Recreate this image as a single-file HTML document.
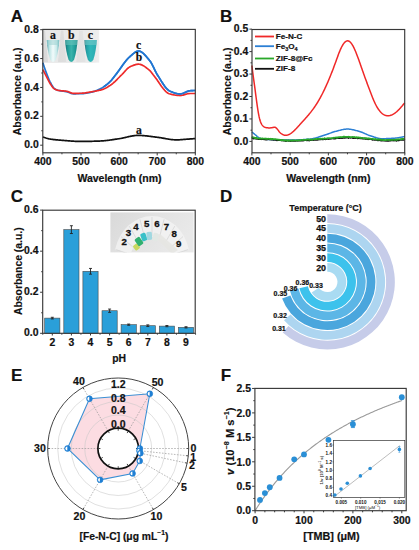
<!DOCTYPE html>
<html><head><meta charset="utf-8"><style>
html,body{margin:0;padding:0;background:#fff;}
svg{display:block;}
</style></head><body>
<svg width="419" height="550" viewBox="0 0 419 550">
<rect x="0" y="0" width="419" height="550" fill="#fff"/>
<defs><linearGradient id="ibg" x1="0" y1="0" x2="1" y2="0"><stop offset="0" stop-color="#d9d9d9"/><stop offset="0.8" stop-color="#e4e4e4"/><stop offset="1" stop-color="#f0f0f0"/></linearGradient><linearGradient id="tubeA" x1="0" y1="0" x2="1" y2="0"><stop offset="0" stop-color="#8fcfd0"/><stop offset="0.5" stop-color="#e9f6f6"/><stop offset="1" stop-color="#9fd6d6"/></linearGradient><linearGradient id="tubeB" x1="0" y1="0" x2="1" y2="0"><stop offset="0" stop-color="#1e8c8c"/><stop offset="0.5" stop-color="#36b0ae"/><stop offset="1" stop-color="#1f8a8a"/></linearGradient><linearGradient id="tubeC" x1="0" y1="0" x2="1" y2="0"><stop offset="0" stop-color="#1f9aa0"/><stop offset="0.5" stop-color="#2fb4b8"/><stop offset="1" stop-color="#2296a0"/></linearGradient><linearGradient id="ibgC" x1="0" y1="0" x2="0" y2="1"><stop offset="0" stop-color="#dedede"/><stop offset="1" stop-color="#e6e6e6"/></linearGradient></defs>
<rect x="43.4" y="30.2" width="55.8" height="32.4" fill="url(#ibg)"/>
<path d="M45.0,30.2 L61.0,30.2 L58.0,62.6 L48.0,62.6 Z" fill="#ececec" opacity="0.8"/>
<path d="M63.3,30.2 L79.3,30.2 L76.3,62.6 L66.3,62.6 Z" fill="#ececec" opacity="0.8"/>
<path d="M82.6,30.2 L98.6,30.2 L95.6,62.6 L85.6,62.6 Z" fill="#ececec" opacity="0.8"/>
<linearGradient id="tg53" x1="0" y1="0" x2="1" y2="0"><stop offset="0.00" stop-color="#3f96a0"/><stop offset="0.18" stop-color="#b8e2e2"/><stop offset="0.50" stop-color="#f2fbfb"/><stop offset="0.82" stop-color="#c4e8e8"/><stop offset="1.00" stop-color="#4aa6ae"/></linearGradient>
<path d="M46.80,40 L59.20,40 C59.00,46 57.60,54 55.90,59.3 Q54.80,61.9 53.00,61.9 Q51.20,61.9 50.10,59.3 C48.40,54 47.00,46 46.80,40 Z" fill="url(#tg53)"/>
<path d="M46.80,40 L59.20,40 L59.00,45 L47.00,45 Z" fill="#9fd2d2" opacity="0.55"/>
<linearGradient id="tg71" x1="0" y1="0" x2="1" y2="0"><stop offset="0.00" stop-color="#0f6a6e"/><stop offset="0.20" stop-color="#1d9896"/><stop offset="0.50" stop-color="#3ab4ac"/><stop offset="0.80" stop-color="#1f9c98"/><stop offset="1.00" stop-color="#177c7c"/></linearGradient>
<path d="M65.10,40 L77.50,40 C77.30,46 75.90,54 74.20,59.3 Q73.10,61.9 71.30,61.9 Q69.50,61.9 68.40,59.3 C66.70,54 65.30,46 65.10,40 Z" fill="url(#tg71)"/>
<path d="M65.10,40 L77.50,40 L77.30,45 L65.30,45 Z" fill="#6cc2bc" opacity="0.55"/>
<linearGradient id="tg90" x1="0" y1="0" x2="1" y2="0"><stop offset="0.00" stop-color="#2a6870"/><stop offset="0.18" stop-color="#22a0a6"/><stop offset="0.50" stop-color="#30b8ba"/><stop offset="1.00" stop-color="#2aa8ae"/></linearGradient>
<path d="M84.40,40 L96.80,40 C96.60,46 95.20,54 93.50,59.3 Q92.40,61.9 90.60,61.9 Q88.80,61.9 87.70,59.3 C86.00,54 84.60,46 84.40,40 Z" fill="url(#tg90)"/>
<path d="M84.40,40 L96.80,40 L96.60,45 L84.60,45 Z" fill="#7ccaca" opacity="0.55"/>
<text x="53.00" y="39.40" font-family="'Liberation Serif',serif" font-weight="bold" font-size="11.80" text-anchor="middle" fill="#111" stroke="#111" stroke-width="0.20" >a</text>
<text x="71.30" y="39.40" font-family="'Liberation Serif',serif" font-weight="bold" font-size="11.80" text-anchor="middle" fill="#111" stroke="#111" stroke-width="0.20" >b</text>
<text x="90.40" y="39.40" font-family="'Liberation Serif',serif" font-weight="bold" font-size="11.80" text-anchor="middle" fill="#111" stroke="#111" stroke-width="0.20" >c</text>
<g fill="none" stroke-width="1.7" stroke-linejoin="round">
<path d="M42.90,136.97 L43.67,137.24 L44.43,137.51 L45.20,137.77 L45.96,138.02 L46.73,138.25 L47.49,138.47 L48.26,138.67 L49.03,138.85 L49.79,139.01 L50.56,139.14 L51.32,139.26 L52.09,139.36 L52.86,139.46 L53.62,139.55 L54.39,139.64 L55.15,139.72 L55.92,139.79 L56.68,139.86 L57.45,139.93 L58.22,140.00 L58.98,140.06 L59.75,140.12 L60.51,140.18 L61.28,140.25 L62.05,140.31 L62.81,140.38 L63.58,140.44 L64.34,140.51 L65.11,140.57 L65.87,140.64 L66.64,140.70 L67.41,140.77 L68.17,140.83 L68.94,140.89 L69.70,140.95 L70.47,141.00 L71.24,141.06 L72.00,141.11 L72.77,141.16 L73.53,141.21 L74.30,141.25 L75.06,141.29 L75.83,141.33 L76.60,141.36 L77.36,141.38 L78.13,141.41 L78.89,141.42 L79.66,141.44 L80.43,141.44 L81.19,141.45 L81.96,141.44 L82.72,141.44 L83.49,141.44 L84.25,141.43 L85.02,141.42 L85.79,141.41 L86.55,141.40 L87.32,141.39 L88.08,141.37 L88.85,141.36 L89.62,141.34 L90.38,141.32 L91.15,141.30 L91.91,141.28 L92.68,141.26 L93.44,141.24 L94.21,141.22 L94.98,141.19 L95.74,141.17 L96.51,141.14 L97.27,141.11 L98.04,141.09 L98.81,141.06 L99.57,141.03 L100.34,141.00 L101.10,140.96 L101.87,140.92 L102.63,140.87 L103.40,140.81 L104.17,140.74 L104.93,140.66 L105.70,140.59 L106.46,140.50 L107.23,140.41 L108.00,140.31 L108.76,140.22 L109.53,140.11 L110.29,140.01 L111.06,139.90 L111.82,139.79 L112.59,139.67 L113.36,139.56 L114.12,139.44 L114.89,139.33 L115.65,139.21 L116.42,139.10 L117.19,138.98 L117.95,138.87 L118.72,138.76 L119.48,138.65 L120.25,138.52 L121.01,138.39 L121.78,138.24 L122.55,138.08 L123.31,137.92 L124.08,137.75 L124.84,137.58 L125.61,137.40 L126.38,137.22 L127.14,137.04 L127.91,136.86 L128.67,136.69 L129.44,136.52 L130.20,136.36 L130.97,136.20 L131.74,136.05 L132.50,135.91 L133.27,135.79 L134.03,135.68 L134.80,135.58 L135.57,135.50 L136.33,135.44 L137.10,135.40 L137.86,135.38 L138.63,135.38 L139.39,135.40 L140.16,135.42 L140.93,135.45 L141.69,135.49 L142.46,135.54 L143.22,135.60 L143.99,135.66 L144.76,135.73 L145.52,135.81 L146.29,135.89 L147.05,135.97 L147.82,136.06 L148.58,136.16 L149.35,136.25 L150.12,136.35 L150.88,136.45 L151.65,136.55 L152.41,136.65 L153.18,136.76 L153.95,136.86 L154.71,136.95 L155.48,137.05 L156.24,137.15 L157.01,137.24 L157.77,137.33 L158.54,137.43 L159.31,137.54 L160.07,137.65 L160.84,137.78 L161.60,137.91 L162.37,138.04 L163.14,138.18 L163.90,138.32 L164.67,138.46 L165.43,138.60 L166.20,138.74 L166.96,138.87 L167.73,139.00 L168.50,139.13 L169.26,139.25 L170.03,139.36 L170.79,139.47 L171.56,139.56 L172.33,139.65 L173.09,139.72 L173.86,139.77 L174.62,139.82 L175.39,139.85 L176.15,139.86 L176.92,139.85 L177.69,139.84 L178.45,139.81 L179.22,139.78 L179.98,139.73 L180.75,139.68 L181.52,139.63 L182.28,139.57 L183.05,139.51 L183.81,139.44 L184.58,139.38 L185.34,139.32 L186.11,139.25 L186.88,139.19 L187.64,139.14 L188.41,139.08 L189.17,139.03 L189.94,138.97 L190.71,138.92 L191.47,138.86 L192.24,138.80 L193.00,138.74 L193.77,138.68 L194.53,138.62 L195.30,138.56" stroke="#111"/>
<path d="M42.90,62.75 L43.67,65.17 L44.43,67.49 L45.20,69.73 L45.96,71.87 L46.73,73.92 L47.49,75.90 L48.26,77.82 L49.03,79.63 L49.79,81.28 L50.56,82.75 L51.32,84.19 L52.09,85.56 L52.86,86.78 L53.62,87.78 L54.39,88.49 L55.15,89.01 L55.92,89.46 L56.68,89.82 L57.45,90.12 L58.22,90.35 L58.98,90.53 L59.75,90.69 L60.51,90.82 L61.28,90.93 L62.05,91.04 L62.81,91.14 L63.58,91.23 L64.34,91.33 L65.11,91.44 L65.87,91.57 L66.64,91.72 L67.41,91.90 L68.17,92.15 L68.94,92.46 L69.70,92.78 L70.47,93.09 L71.24,93.38 L72.00,93.61 L72.77,93.75 L73.53,93.79 L74.30,93.79 L75.06,93.79 L75.83,93.78 L76.60,93.77 L77.36,93.76 L78.13,93.74 L78.89,93.73 L79.66,93.71 L80.43,93.69 L81.19,93.67 L81.96,93.64 L82.72,93.60 L83.49,93.54 L84.25,93.47 L85.02,93.38 L85.79,93.27 L86.55,93.15 L87.32,93.03 L88.08,92.89 L88.85,92.75 L89.62,92.60 L90.38,92.45 L91.15,92.27 L91.91,92.08 L92.68,91.86 L93.44,91.62 L94.21,91.36 L94.98,91.09 L95.74,90.79 L96.51,90.48 L97.27,90.16 L98.04,89.82 L98.81,89.47 L99.57,89.11 L100.34,88.74 L101.10,88.35 L101.87,87.92 L102.63,87.47 L103.40,86.99 L104.17,86.48 L104.93,85.94 L105.70,85.38 L106.46,84.79 L107.23,84.18 L108.00,83.54 L108.76,82.88 L109.53,82.20 L110.29,81.49 L111.06,80.68 L111.82,79.78 L112.59,78.83 L113.36,77.83 L114.12,76.82 L114.89,75.82 L115.65,74.85 L116.42,73.87 L117.19,72.86 L117.95,71.82 L118.72,70.76 L119.48,69.68 L120.25,68.59 L121.01,67.50 L121.78,66.41 L122.55,65.33 L123.31,64.27 L124.08,63.22 L124.84,62.20 L125.61,61.22 L126.38,60.28 L127.14,59.38 L127.91,58.53 L128.67,57.75 L129.44,57.02 L130.20,56.36 L130.97,55.70 L131.74,55.03 L132.50,54.36 L133.27,53.70 L134.03,53.08 L134.80,52.52 L135.57,52.02 L136.33,51.61 L137.10,51.30 L137.86,51.11 L138.63,51.05 L139.39,51.14 L140.16,51.36 L140.93,51.70 L141.69,52.15 L142.46,52.70 L143.22,53.33 L143.99,54.04 L144.76,54.82 L145.52,55.65 L146.29,56.52 L147.05,57.43 L147.82,58.35 L148.58,59.29 L149.35,60.22 L150.12,61.17 L150.88,62.29 L151.65,63.60 L152.41,65.05 L153.18,66.59 L153.95,68.18 L154.71,69.78 L155.48,71.35 L156.24,72.84 L157.01,74.21 L157.77,75.44 L158.54,76.65 L159.31,77.89 L160.07,79.13 L160.84,80.37 L161.60,81.60 L162.37,82.80 L163.14,83.97 L163.90,85.10 L164.67,86.17 L165.43,87.17 L166.20,88.09 L166.96,88.93 L167.73,89.66 L168.50,90.28 L169.26,90.79 L170.03,91.17 L170.79,91.51 L171.56,91.83 L172.33,92.15 L173.09,92.45 L173.86,92.73 L174.62,92.98 L175.39,93.22 L176.15,93.42 L176.92,93.60 L177.69,93.74 L178.45,93.84 L179.22,93.91 L179.98,93.94 L180.75,93.90 L181.52,93.77 L182.28,93.56 L183.05,93.30 L183.81,92.99 L184.58,92.66 L185.34,92.30 L186.11,91.95 L186.88,91.62 L187.64,91.32 L188.41,91.07 L189.17,90.88 L189.94,90.76 L190.71,90.70 L191.47,90.64 L192.24,90.58 L193.00,90.54 L193.77,90.50 L194.53,90.48 L195.30,90.47" stroke="#2176d2"/>
<path d="M42.90,69.68 L43.67,71.17 L44.43,72.66 L45.20,74.14 L45.96,75.61 L46.73,77.08 L47.49,78.59 L48.26,80.13 L49.03,81.62 L49.79,82.99 L50.56,84.19 L51.32,85.38 L52.09,86.51 L52.86,87.52 L53.62,88.35 L54.39,88.92 L55.15,89.32 L55.92,89.67 L56.68,89.95 L57.45,90.17 L58.22,90.34 L58.98,90.47 L59.75,90.58 L60.51,90.67 L61.28,90.75 L62.05,90.81 L62.81,90.88 L63.58,90.94 L64.34,91.01 L65.11,91.09 L65.87,91.18 L66.64,91.30 L67.41,91.45 L68.17,91.68 L68.94,91.98 L69.70,92.30 L70.47,92.63 L71.24,92.92 L72.00,93.16 L72.77,93.32 L73.53,93.36 L74.30,93.36 L75.06,93.35 L75.83,93.35 L76.60,93.34 L77.36,93.32 L78.13,93.31 L78.89,93.29 L79.66,93.27 L80.43,93.25 L81.19,93.23 L81.96,93.21 L82.72,93.17 L83.49,93.10 L84.25,93.02 L85.02,92.92 L85.79,92.80 L86.55,92.68 L87.32,92.55 L88.08,92.42 L88.85,92.28 L89.62,92.15 L90.38,92.02 L91.15,91.90 L91.91,91.77 L92.68,91.64 L93.44,91.51 L94.21,91.38 L94.98,91.24 L95.74,91.10 L96.51,90.95 L97.27,90.79 L98.04,90.62 L98.81,90.45 L99.57,90.26 L100.34,90.06 L101.10,89.86 L101.87,89.63 L102.63,89.38 L103.40,89.10 L104.17,88.78 L104.93,88.43 L105.70,88.05 L106.46,87.65 L107.23,87.22 L108.00,86.78 L108.76,86.31 L109.53,85.84 L110.29,85.34 L111.06,84.81 L111.82,84.22 L112.59,83.60 L113.36,82.94 L114.12,82.25 L114.89,81.54 L115.65,80.80 L116.42,80.05 L117.19,79.29 L117.95,78.52 L118.72,77.75 L119.48,76.98 L120.25,76.23 L121.01,75.48 L121.78,74.75 L122.55,73.97 L123.31,73.14 L124.08,72.28 L124.84,71.41 L125.61,70.55 L126.38,69.72 L127.14,68.94 L127.91,68.23 L128.67,67.60 L129.44,67.09 L130.20,66.69 L130.97,66.34 L131.74,66.00 L132.50,65.67 L133.27,65.36 L134.03,65.08 L134.80,64.82 L135.57,64.60 L136.33,64.43 L137.10,64.29 L137.86,64.21 L138.63,64.19 L139.39,64.25 L140.16,64.39 L140.93,64.60 L141.69,64.89 L142.46,65.24 L143.22,65.64 L143.99,66.10 L144.76,66.60 L145.52,67.15 L146.29,67.72 L147.05,68.32 L147.82,68.93 L148.58,69.56 L149.35,70.20 L150.12,70.86 L150.88,71.71 L151.65,72.71 L152.41,73.75 L153.18,74.76 L153.95,75.70 L154.71,76.69 L155.48,77.72 L156.24,78.78 L157.01,79.86 L157.77,80.97 L158.54,82.08 L159.31,83.19 L160.07,84.30 L160.84,85.39 L161.60,86.45 L162.37,87.47 L163.14,88.46 L163.90,89.39 L164.67,90.27 L165.43,91.07 L166.20,91.80 L166.96,92.44 L167.73,92.99 L168.50,93.44 L169.26,93.78 L170.03,94.00 L170.79,94.19 L171.56,94.38 L172.33,94.55 L173.09,94.72 L173.86,94.87 L174.62,95.01 L175.39,95.14 L176.15,95.25 L176.92,95.34 L177.69,95.42 L178.45,95.48 L179.22,95.51 L179.98,95.53 L180.75,95.50 L181.52,95.41 L182.28,95.27 L183.05,95.09 L183.81,94.88 L184.58,94.65 L185.34,94.41 L186.11,94.19 L186.88,93.97 L187.64,93.79 L188.41,93.64 L189.17,93.54 L189.94,93.50 L190.71,93.50 L191.47,93.50 L192.24,93.50 L193.00,93.50 L193.77,93.50 L194.53,93.50 L195.30,93.50" stroke="#ee2a2a"/>
<path d="M103.86,86.69 L104.32,86.37 L104.78,86.05 L105.24,85.72 L105.70,85.38 L106.16,85.03 L106.62,84.67 L107.08,84.31 L107.54,83.93 L108.00,83.54 L108.45,83.15 L108.91,82.75 L109.37,82.34 L109.83,81.92 L110.29,81.49 L110.75,81.01 L111.21,80.50 L111.67,79.97 L112.13,79.41 L112.59,78.83 L113.05,78.23 L113.51,77.63 L113.97,77.02 L114.43,76.42 L114.89,75.82 L115.35,75.24 L115.81,74.66 L116.27,74.07 L116.73,73.47 L117.19,72.86 L117.64,72.24 L118.10,71.61 L118.56,70.97 L119.02,70.33 L119.48,69.68 L119.94,69.03 L120.40,68.37 L120.86,67.72 L121.32,67.06 L121.78,66.41 L122.24,65.76 L122.70,65.12 L123.16,64.48 L123.62,63.84 L124.08,63.22 L124.54,62.61 L125.00,62.00 L125.46,61.41 L125.92,60.84 L126.38,60.28 L126.83,59.73 L127.29,59.21 L127.75,58.70 L128.21,58.21 L128.67,57.75 L129.13,57.30 L129.59,56.89 L130.05,56.49 L130.51,56.10 L130.97,55.70 L131.43,55.30 L131.89,54.90 L132.35,54.49 L132.81,54.09 L133.27,53.70 L133.73,53.33 L134.19,52.97 L134.65,52.63 L135.11,52.31 L135.57,52.02 L136.02,51.76 L136.48,51.54 L136.94,51.35 L137.40,51.21 L137.86,51.11 L138.32,51.06 L138.78,51.06 L139.24,51.11 L139.70,51.21 L140.16,51.36 L140.62,51.55 L141.08,51.78 L141.54,52.05 L142.00,52.36 L142.46,52.70 L142.92,53.07 L143.38,53.47 L143.84,53.89 L144.30,54.35 L144.76,54.82 L145.21,55.31 L145.67,55.82 L146.13,56.34 L146.59,56.88 L147.05,57.43 L147.51,57.98 L147.97,58.54 L148.43,59.10 L148.89,59.66 L149.35,60.22 L149.81,60.77 L150.27,61.37 L150.73,62.05 L151.19,62.80 L151.65,63.60 L152.11,64.46 L152.57,65.35 L153.03,66.27 L153.49,67.22 L153.95,68.18 L154.40,69.14 L154.86,70.10 L155.32,71.04 L155.78,71.96 L156.24,72.84 L156.70,73.68 L157.16,74.47 L157.62,75.20 L158.08,75.92 L158.54,76.65 L159.00,77.39 L159.46,78.14 L159.92,78.88 L160.38,79.63 L160.84,80.37 L161.30,81.11 L161.76,81.84 L162.22,82.56 L162.68,83.28 L163.14,83.97 L163.59,84.65 L164.05,85.32 L164.51,85.96 L164.97,86.58 L165.43,87.17 L165.89,87.73 L166.35,88.27 L166.81,88.77 L167.27,89.23 L167.73,89.66 L168.19,90.05 L168.65,90.40 L169.11,90.70 L169.57,90.95 L170.03,91.17 L170.49,91.37 L170.95,91.57 L171.41,91.77 L171.87,91.96 L172.33,92.15 L172.78,92.33 L173.24,92.51 L173.70,92.67 L174.16,92.83 L174.62,92.98 L175.08,93.13 L175.54,93.26 L176.00,93.38 L176.46,93.50 L176.92,93.60 L177.38,93.69 L177.84,93.76 L178.30,93.83 L178.76,93.88 L179.22,93.91 L179.68,93.93 L180.14,93.94 L180.60,93.91 L181.06,93.86 L181.52,93.77 L181.97,93.65 L182.43,93.52 L182.89,93.36 L183.35,93.18 L183.81,92.99 L184.27,92.79 L184.73,92.59 L185.19,92.37 L185.65,92.16 L186.11,91.95 L186.57,91.75 L187.03,91.56 L187.49,91.38 L187.95,91.21 L188.41,91.07 L188.87,90.94 L189.33,90.85 L189.79,90.78 L190.25,90.74 L190.71,90.70 L191.16,90.66 L191.62,90.63 L192.08,90.59 L192.54,90.56 L193.00,90.54 L193.46,90.52 L193.92,90.50 L194.38,90.48 L194.84,90.48 L195.30,90.47" stroke="#2176d2"/>
</g>
<text x="138.60" y="49.20" font-family="'Liberation Serif',serif" font-weight="bold" font-size="11.60" text-anchor="middle" fill="#111" stroke="#111" stroke-width="0.20" >c</text>
<text x="139.00" y="61.30" font-family="'Liberation Serif',serif" font-weight="bold" font-size="11.60" text-anchor="middle" fill="#111" stroke="#111" stroke-width="0.20" >b</text>
<text x="138.80" y="134.00" font-family="'Liberation Serif',serif" font-weight="bold" font-size="11.60" text-anchor="middle" fill="#111" stroke="#111" stroke-width="0.20" >a</text>
<rect x="42.80" y="29.40" width="152.50" height="123.40" fill="none" stroke="#383838" stroke-width="1.15"/>
<path d="M42.80,145.20 h-2.6 M42.80,130.76 h-1.5 M42.80,116.32 h-2.6 M42.80,101.88 h-1.5 M42.80,87.44 h-2.6 M42.80,73.00 h-1.5 M42.80,58.56 h-2.6 M42.80,44.12 h-1.5 M42.80,29.68 h-2.6 M42.90,152.80 v2.6 M61.95,152.80 v1.5 M81.00,152.80 v2.6 M100.05,152.80 v1.5 M119.10,152.80 v2.6 M138.15,152.80 v1.5 M157.20,152.80 v2.6 M176.25,152.80 v1.5 M195.30,152.80 v2.6" stroke="#383838" stroke-width="1" fill="none"/>
<text x="38.70" y="148.30" font-family="'Liberation Sans',sans-serif" font-weight="bold" font-size="10.40" text-anchor="end" fill="#111" stroke="#111" stroke-width="0.20" >0.0</text>
<text x="38.70" y="119.42" font-family="'Liberation Sans',sans-serif" font-weight="bold" font-size="10.40" text-anchor="end" fill="#111" stroke="#111" stroke-width="0.20" >0.2</text>
<text x="38.70" y="90.54" font-family="'Liberation Sans',sans-serif" font-weight="bold" font-size="10.40" text-anchor="end" fill="#111" stroke="#111" stroke-width="0.20" >0.4</text>
<text x="38.70" y="61.66" font-family="'Liberation Sans',sans-serif" font-weight="bold" font-size="10.40" text-anchor="end" fill="#111" stroke="#111" stroke-width="0.20" >0.6</text>
<text x="38.70" y="32.78" font-family="'Liberation Sans',sans-serif" font-weight="bold" font-size="10.40" text-anchor="end" fill="#111" stroke="#111" stroke-width="0.20" >0.8</text>
<text x="42.90" y="164.60" font-family="'Liberation Sans',sans-serif" font-weight="bold" font-size="10.40" text-anchor="middle" fill="#111" stroke="#111" stroke-width="0.20" >400</text>
<text x="81.00" y="164.60" font-family="'Liberation Sans',sans-serif" font-weight="bold" font-size="10.40" text-anchor="middle" fill="#111" stroke="#111" stroke-width="0.20" >500</text>
<text x="119.10" y="164.60" font-family="'Liberation Sans',sans-serif" font-weight="bold" font-size="10.40" text-anchor="middle" fill="#111" stroke="#111" stroke-width="0.20" >600</text>
<text x="157.20" y="164.60" font-family="'Liberation Sans',sans-serif" font-weight="bold" font-size="10.40" text-anchor="middle" fill="#111" stroke="#111" stroke-width="0.20" >700</text>
<text x="195.30" y="164.60" font-family="'Liberation Sans',sans-serif" font-weight="bold" font-size="10.40" text-anchor="middle" fill="#111" stroke="#111" stroke-width="0.20" >800</text>
<text x="119.50" y="182.30" font-family="'Liberation Sans',sans-serif" font-weight="bold" font-size="10.50" text-anchor="middle" fill="#111" stroke="#111" stroke-width="0.20" >Wavelength (nm)</text>
<text x="21.40" y="91.40" font-family="'Liberation Sans',sans-serif" font-weight="bold" font-size="10.40" text-anchor="middle" fill="#111" stroke="#111" stroke-width="0.10" transform="rotate(-90 21.4 91.4)">Absorbance (a.u.)</text>
<text x="10.70" y="21.60" font-family="'Liberation Sans',sans-serif" font-weight="bold" font-size="17.00" text-anchor="start" fill="#111" stroke="#111" stroke-width="0.15" >A</text>
<g fill="none" stroke-width="1.5" stroke-linejoin="round">
<path d="M251.90,131.97 L252.67,132.62 L253.44,133.26 L254.21,133.89 L254.97,134.52 L255.74,135.13 L256.51,135.79 L257.28,136.49 L258.05,137.15 L258.82,137.70 L259.58,138.04 L260.35,138.27 L261.12,138.47 L261.89,138.65 L262.66,138.81 L263.43,138.96 L264.20,139.08 L264.96,139.18 L265.73,139.27 L266.50,139.33 L267.27,139.38 L268.04,139.43 L268.81,139.47 L269.57,139.51 L270.34,139.55 L271.11,139.59 L271.88,139.62 L272.65,139.66 L273.42,139.69 L274.18,139.72 L274.95,139.75 L275.72,139.78 L276.49,139.81 L277.26,139.84 L278.03,139.86 L278.80,139.88 L279.56,139.91 L280.33,139.93 L281.10,139.95 L281.87,139.96 L282.64,139.98 L283.41,139.99 L284.17,140.01 L284.94,140.02 L285.71,140.03 L286.48,140.04 L287.25,140.04 L288.02,140.05 L288.79,140.05 L289.55,140.05 L290.32,140.05 L291.09,140.05 L291.86,140.04 L292.63,140.03 L293.40,140.02 L294.16,140.00 L294.93,139.99 L295.70,139.96 L296.47,139.94 L297.24,139.91 L298.01,139.88 L298.77,139.84 L299.54,139.81 L300.31,139.77 L301.08,139.73 L301.85,139.68 L302.62,139.64 L303.39,139.59 L304.15,139.54 L304.92,139.48 L305.69,139.43 L306.46,139.37 L307.23,139.32 L308.00,139.26 L308.76,139.19 L309.53,139.13 L310.30,139.04 L311.07,138.94 L311.84,138.81 L312.61,138.66 L313.38,138.49 L314.14,138.31 L314.91,138.11 L315.68,137.90 L316.45,137.68 L317.22,137.44 L317.99,137.21 L318.75,136.96 L319.52,136.71 L320.29,136.46 L321.06,136.21 L321.83,135.96 L322.60,135.71 L323.37,135.47 L324.13,135.23 L324.90,135.00 L325.67,134.76 L326.44,134.51 L327.21,134.24 L327.98,133.97 L328.74,133.69 L329.51,133.41 L330.28,133.13 L331.05,132.85 L331.82,132.58 L332.59,132.32 L333.35,132.06 L334.12,131.82 L334.89,131.59 L335.66,131.38 L336.43,131.19 L337.20,130.99 L337.97,130.79 L338.73,130.59 L339.50,130.38 L340.27,130.18 L341.04,129.99 L341.81,129.81 L342.58,129.64 L343.34,129.48 L344.11,129.35 L344.88,129.23 L345.65,129.14 L346.42,129.08 L347.19,129.05 L347.96,129.06 L348.72,129.09 L349.49,129.16 L350.26,129.25 L351.03,129.37 L351.80,129.50 L352.57,129.66 L353.33,129.83 L354.10,130.01 L354.87,130.21 L355.64,130.41 L356.41,130.62 L357.18,130.82 L357.95,131.03 L358.71,131.24 L359.48,131.45 L360.25,131.69 L361.02,131.95 L361.79,132.24 L362.56,132.55 L363.32,132.88 L364.09,133.21 L364.86,133.56 L365.63,133.90 L366.40,134.24 L367.17,134.57 L367.93,134.89 L368.70,135.19 L369.47,135.48 L370.24,135.73 L371.01,135.98 L371.78,136.23 L372.55,136.49 L373.31,136.75 L374.08,137.02 L374.85,137.27 L375.62,137.52 L376.39,137.76 L377.16,137.98 L377.92,138.18 L378.69,138.35 L379.46,138.50 L380.23,138.60 L381.00,138.68 L381.77,138.71 L382.54,138.70 L383.30,138.70 L384.07,138.68 L384.84,138.67 L385.61,138.65 L386.38,138.62 L387.15,138.59 L387.91,138.56 L388.68,138.52 L389.45,138.48 L390.22,138.44 L390.99,138.40 L391.76,138.35 L392.52,138.31 L393.29,138.26 L394.06,138.21 L394.83,138.14 L395.60,138.06 L396.37,137.97 L397.14,137.87 L397.90,137.76 L398.67,137.65 L399.44,137.52 L400.21,137.38 L400.98,137.24 L401.75,137.10 L402.51,136.94 L403.28,136.79 L404.05,136.63 L404.82,136.46" stroke="#2b7fd4"/>
<path d="M251.90,138.00 L252.41,138.22 L252.92,138.30 L253.43,138.76 L253.95,138.09 L254.46,138.30 L254.97,138.65 L255.48,138.54 L255.99,138.70 L256.50,138.93 L257.01,138.73 L257.53,139.02 L258.04,139.08 L258.55,139.22 L259.06,139.04 L259.57,139.17 L260.08,139.09 L260.59,139.33 L261.11,139.22 L261.62,139.43 L262.13,139.14 L262.64,139.28 L263.15,139.27 L263.66,139.28 L264.17,139.55 L264.69,139.24 L265.20,139.03 L265.71,139.71 L266.22,139.74 L266.73,139.71 L267.24,139.31 L267.75,139.45 L268.27,139.30 L268.78,139.38 L269.29,139.49 L269.80,139.50 L270.31,139.60 L270.82,139.44 L271.33,139.82 L271.85,139.72 L272.36,139.64 L272.87,139.39 L273.38,139.89 L273.89,139.98 L274.40,139.93 L274.91,139.70 L275.43,139.96 L275.94,139.72 L276.45,140.34 L276.96,139.85 L277.47,139.91 L277.98,140.40 L278.49,140.17 L279.01,140.03 L279.52,140.28 L280.03,140.16 L280.54,139.97 L281.05,140.39 L281.56,140.54 L282.07,140.67 L282.59,140.46 L283.10,140.65 L283.61,140.69 L284.12,140.72 L284.63,140.62 L285.14,140.96 L285.65,141.08 L286.17,141.27 L286.68,140.64 L287.19,140.87 L287.70,140.63 L288.21,140.92 L288.72,141.07 L289.23,140.86 L289.75,140.96 L290.26,141.18 L290.77,141.11 L291.28,140.63 L291.79,140.88 L292.30,140.86 L292.82,140.98 L293.33,141.05 L293.84,140.75 L294.35,140.92 L294.86,141.03 L295.37,140.90 L295.88,141.02 L296.40,140.81 L296.91,140.63 L297.42,140.96 L297.93,140.54 L298.44,140.90 L298.95,140.73 L299.46,140.89 L299.98,140.75 L300.49,140.68 L301.00,140.75 L301.51,140.77 L302.02,140.75 L302.53,140.75 L303.04,140.86 L303.56,140.60 L304.07,140.46 L304.58,140.34 L305.09,140.36 L305.60,140.01 L306.11,140.37 L306.62,140.49 L307.14,140.04 L307.65,140.54 L308.16,140.16 L308.67,140.48 L309.18,140.22 L309.69,140.61 L310.20,140.07 L310.72,140.23 L311.23,140.35 L311.74,139.84 L312.25,139.98 L312.76,140.07 L313.27,140.18 L313.78,140.02 L314.30,140.01 L314.81,139.81 L315.32,139.76 L315.83,139.99 L316.34,139.93 L316.85,139.89 L317.36,140.00 L317.88,139.82 L318.39,139.69 L318.90,139.51 L319.41,139.36 L319.92,139.70 L320.43,139.42 L320.94,139.56 L321.46,139.06 L321.97,139.41 L322.48,139.27 L322.99,139.48 L323.50,139.42 L324.01,139.20 L324.52,139.27 L325.04,139.10 L325.55,139.40 L326.06,138.97 L326.57,139.21 L327.08,138.71 L327.59,139.03 L328.10,138.75 L328.62,139.16 L329.13,138.80 L329.64,139.00 L330.15,138.90 L330.66,138.77 L331.17,138.79 L331.68,138.65 L332.20,138.52 L332.71,138.50 L333.22,138.59 L333.73,138.78 L334.24,138.64 L334.75,138.49 L335.26,138.80 L335.78,138.24 L336.29,138.38 L336.80,138.34 L337.31,138.09 L337.82,138.10 L338.33,138.15 L338.84,138.33 L339.36,138.06 L339.87,138.02 L340.38,138.21 L340.89,137.83 L341.40,137.90 L341.91,138.32 L342.42,137.92 L342.94,138.14 L343.45,137.69 L343.96,137.73 L344.47,138.06 L344.98,138.00 L345.49,137.81 L346.00,137.86 L346.52,137.54 L347.03,137.68 L347.54,137.86 L348.05,137.71 L348.56,138.18 L349.07,137.77 L349.58,137.68 L350.10,137.88 L350.61,137.99 L351.12,137.77 L351.63,137.54 L352.14,137.88 L352.65,138.14 L353.16,137.70 L353.68,138.32 L354.19,137.93 L354.70,138.15 L355.21,137.91 L355.72,138.26 L356.23,137.90 L356.74,138.12 L357.26,138.52 L357.77,138.60 L358.28,138.34 L358.79,138.09 L359.30,138.34 L359.81,138.39 L360.32,138.49 L360.84,138.35 L361.35,138.46 L361.86,138.51 L362.37,138.78 L362.88,138.43 L363.39,138.44 L363.90,138.96 L364.42,138.35 L364.93,138.68 L365.44,138.93 L365.95,139.23 L366.46,138.80 L366.97,138.86 L367.49,139.11 L368.00,139.37 L368.51,138.89 L369.02,139.25 L369.53,139.28 L370.04,138.74 L370.55,138.93 L371.07,139.20 L371.58,139.51 L372.09,139.38 L372.60,139.97 L373.11,139.60 L373.62,139.82 L374.13,139.98 L374.65,140.10 L375.16,139.78 L375.67,139.93 L376.18,139.98 L376.69,139.92 L377.20,140.28 L377.71,140.41 L378.23,140.56 L378.74,140.36 L379.25,140.22 L379.76,140.43 L380.27,140.34 L380.78,140.71 L381.29,140.62 L381.81,140.72 L382.32,140.84 L382.83,140.31 L383.34,140.52 L383.85,140.83 L384.36,140.85 L384.87,140.73 L385.39,140.98 L385.90,140.65 L386.41,140.96 L386.92,140.79 L387.43,140.90 L387.94,140.80 L388.45,140.95 L388.97,140.98 L389.48,140.87 L389.99,140.81 L390.50,140.72 L391.01,140.65 L391.52,140.37 L392.03,140.48 L392.55,140.66 L393.06,140.46 L393.57,140.69 L394.08,140.29 L394.59,140.42 L395.10,140.74 L395.61,140.33 L396.13,140.29 L396.64,140.89 L397.15,140.51 L397.66,140.42 L398.17,140.65 L398.68,140.45 L399.19,140.39 L399.71,140.08 L400.22,140.07 L400.73,139.61 L401.24,140.10 L401.75,139.77 L402.26,139.90 L402.77,139.81 L403.29,140.01 L403.80,140.08 L404.31,139.81 L404.82,139.47" stroke="#111"/>
<path d="M251.90,136.54 L252.41,137.51 L252.92,137.11 L253.43,137.43 L253.95,137.54 L254.46,137.63 L254.97,138.08 L255.48,137.88 L255.99,138.10 L256.50,137.46 L257.01,138.11 L257.53,138.31 L258.04,138.37 L258.55,138.51 L259.06,138.63 L259.57,138.55 L260.08,138.43 L260.59,138.59 L261.11,138.40 L261.62,138.64 L262.13,138.62 L262.64,138.37 L263.15,138.57 L263.66,138.77 L264.17,138.73 L264.69,138.62 L265.20,138.38 L265.71,138.79 L266.22,138.80 L266.73,138.59 L267.24,138.95 L267.75,138.85 L268.27,138.66 L268.78,138.73 L269.29,138.84 L269.80,138.75 L270.31,139.40 L270.82,138.74 L271.33,139.12 L271.85,139.28 L272.36,138.96 L272.87,138.92 L273.38,139.17 L273.89,139.33 L274.40,139.17 L274.91,139.24 L275.43,139.02 L275.94,139.20 L276.45,139.35 L276.96,139.24 L277.47,139.53 L277.98,139.72 L278.49,139.50 L279.01,139.56 L279.52,139.76 L280.03,139.92 L280.54,139.79 L281.05,140.34 L281.56,139.82 L282.07,139.91 L282.59,140.35 L283.10,140.09 L283.61,140.33 L284.12,140.06 L284.63,140.61 L285.14,140.45 L285.65,140.20 L286.17,140.15 L286.68,140.78 L287.19,140.51 L287.70,140.39 L288.21,140.58 L288.72,140.20 L289.23,140.71 L289.75,140.44 L290.26,140.69 L290.77,140.25 L291.28,140.50 L291.79,140.56 L292.30,140.79 L292.82,140.17 L293.33,140.32 L293.84,140.31 L294.35,140.23 L294.86,140.35 L295.37,140.51 L295.88,140.52 L296.40,140.50 L296.91,140.08 L297.42,140.57 L297.93,140.39 L298.44,140.31 L298.95,140.19 L299.46,140.10 L299.98,140.40 L300.49,140.45 L301.00,140.11 L301.51,139.86 L302.02,139.91 L302.53,139.98 L303.04,140.04 L303.56,139.90 L304.07,139.96 L304.58,139.74 L305.09,140.00 L305.60,139.80 L306.11,139.81 L306.62,139.66 L307.14,139.69 L307.65,139.24 L308.16,139.40 L308.67,139.37 L309.18,139.97 L309.69,139.64 L310.20,139.66 L310.72,139.42 L311.23,139.90 L311.74,139.24 L312.25,139.23 L312.76,139.62 L313.27,139.53 L313.78,139.47 L314.30,139.28 L314.81,139.14 L315.32,138.85 L315.83,139.22 L316.34,139.01 L316.85,139.08 L317.36,138.75 L317.88,138.90 L318.39,138.75 L318.90,139.15 L319.41,138.95 L319.92,139.03 L320.43,138.57 L320.94,138.69 L321.46,138.82 L321.97,138.81 L322.48,138.60 L322.99,138.78 L323.50,138.78 L324.01,138.49 L324.52,138.09 L325.04,138.54 L325.55,138.56 L326.06,138.63 L326.57,138.63 L327.08,138.25 L327.59,138.16 L328.10,138.27 L328.62,138.18 L329.13,138.18 L329.64,138.14 L330.15,138.39 L330.66,138.16 L331.17,138.01 L331.68,138.13 L332.20,138.03 L332.71,138.04 L333.22,137.91 L333.73,137.65 L334.24,137.83 L334.75,137.73 L335.26,137.51 L335.78,137.49 L336.29,137.26 L336.80,137.89 L337.31,137.32 L337.82,137.51 L338.33,137.35 L338.84,137.18 L339.36,137.10 L339.87,137.07 L340.38,137.18 L340.89,136.89 L341.40,137.19 L341.91,137.13 L342.42,136.93 L342.94,137.14 L343.45,136.63 L343.96,136.81 L344.47,136.58 L344.98,136.96 L345.49,137.01 L346.00,136.90 L346.52,136.78 L347.03,137.02 L347.54,136.84 L348.05,136.92 L348.56,136.63 L349.07,137.05 L349.58,136.75 L350.10,137.07 L350.61,137.14 L351.12,137.12 L351.63,137.23 L352.14,137.02 L352.65,136.89 L353.16,137.07 L353.68,137.02 L354.19,136.88 L354.70,137.16 L355.21,137.21 L355.72,137.33 L356.23,137.61 L356.74,137.23 L357.26,137.73 L357.77,137.34 L358.28,137.50 L358.79,137.34 L359.30,137.61 L359.81,137.79 L360.32,137.63 L360.84,137.84 L361.35,137.82 L361.86,137.83 L362.37,137.91 L362.88,137.96 L363.39,138.13 L363.90,138.06 L364.42,138.46 L364.93,138.14 L365.44,138.38 L365.95,138.00 L366.46,138.02 L366.97,138.64 L367.49,138.31 L368.00,138.40 L368.51,138.62 L369.02,138.39 L369.53,138.62 L370.04,138.92 L370.55,138.71 L371.07,138.74 L371.58,138.76 L372.09,139.06 L372.60,138.79 L373.11,138.84 L373.62,139.24 L374.13,139.22 L374.65,139.18 L375.16,139.33 L375.67,138.98 L376.18,139.31 L376.69,139.59 L377.20,139.61 L377.71,139.54 L378.23,139.17 L378.74,139.67 L379.25,139.67 L379.76,139.65 L380.27,139.80 L380.78,139.42 L381.29,139.97 L381.81,139.78 L382.32,139.91 L382.83,139.86 L383.34,140.21 L383.85,139.70 L384.36,140.06 L384.87,140.04 L385.39,140.22 L385.90,140.18 L386.41,139.95 L386.92,139.87 L387.43,139.91 L387.94,139.82 L388.45,139.90 L388.97,140.01 L389.48,139.86 L389.99,139.89 L390.50,140.00 L391.01,139.83 L391.52,139.71 L392.03,139.88 L392.55,139.96 L393.06,139.75 L393.57,139.51 L394.08,139.86 L394.59,139.80 L395.10,139.78 L395.61,139.50 L396.13,140.01 L396.64,139.58 L397.15,139.39 L397.66,139.71 L398.17,139.25 L398.68,139.37 L399.19,139.51 L399.71,139.33 L400.22,139.58 L400.73,139.35 L401.24,138.86 L401.75,139.29 L402.26,138.73 L402.77,139.01 L403.29,138.75 L403.80,138.85 L404.31,139.19 L404.82,138.81" stroke="#2aa82a" stroke-width="1.7"/>
<path d="M251.90,65.52 L252.28,68.73 L252.66,71.84 L253.05,74.79 L253.43,77.54 L253.81,80.30 L254.19,83.06 L254.58,85.84 L254.96,88.67 L255.34,91.58 L255.72,94.53 L256.11,97.49 L256.49,100.41 L256.87,103.22 L257.25,105.89 L257.63,108.40 L258.02,110.78 L258.40,113.01 L258.78,115.08 L259.16,116.97 L259.55,118.65 L259.93,120.09 L260.31,121.31 L260.69,122.34 L261.08,123.20 L261.46,123.94 L261.84,124.57 L262.22,125.10 L262.60,125.57 L262.99,125.97 L263.37,126.32 L263.75,126.62 L264.13,126.88 L264.52,127.10 L264.90,127.28 L265.28,127.42 L265.66,127.52 L266.05,127.61 L266.43,127.68 L266.81,127.74 L267.19,127.79 L267.57,127.83 L267.96,127.86 L268.34,127.89 L268.72,127.90 L269.10,127.91 L269.49,127.91 L269.87,127.90 L270.25,127.88 L270.63,127.85 L271.01,127.82 L271.40,127.78 L271.78,127.73 L272.16,127.67 L272.54,127.59 L272.93,127.50 L273.31,127.40 L273.69,127.30 L274.07,127.22 L274.46,127.19 L274.84,127.22 L275.22,127.32 L275.60,127.51 L275.98,127.78 L276.37,128.11 L276.75,128.49 L277.13,128.91 L277.51,129.37 L277.90,129.87 L278.28,130.40 L278.66,130.94 L279.04,131.47 L279.43,131.95 L279.81,132.37 L280.19,132.74 L280.57,133.05 L280.95,133.33 L281.34,133.60 L281.72,133.85 L282.10,134.10 L282.48,134.34 L282.87,134.56 L283.25,134.75 L283.63,134.92 L284.01,135.05 L284.40,135.15 L284.78,135.22 L285.16,135.27 L285.54,135.29 L285.92,135.29 L286.31,135.26 L286.69,135.21 L287.07,135.14 L287.45,135.05 L287.84,134.94 L288.22,134.80 L288.60,134.65 L288.98,134.48 L289.37,134.29 L289.75,134.08 L290.13,133.86 L290.51,133.62 L290.89,133.36 L291.28,133.09 L291.66,132.81 L292.04,132.51 L292.42,132.20 L292.81,131.88 L293.19,131.54 L293.57,131.20 L293.95,130.85 L294.34,130.48 L294.72,130.11 L295.10,129.73 L295.48,129.34 L295.86,128.95 L296.25,128.55 L296.63,128.14 L297.01,127.73 L297.39,127.32 L297.78,126.90 L298.16,126.48 L298.54,126.06 L298.92,125.64 L299.31,125.22 L299.69,124.79 L300.07,124.37 L300.45,123.95 L300.83,123.53 L301.22,123.11 L301.60,122.69 L301.98,122.27 L302.36,121.85 L302.75,121.43 L303.13,121.01 L303.51,120.59 L303.89,120.17 L304.28,119.75 L304.66,119.33 L305.04,118.90 L305.42,118.47 L305.80,118.04 L306.19,117.61 L306.57,117.18 L306.95,116.74 L307.33,116.30 L307.72,115.86 L308.10,115.41 L308.48,114.96 L308.86,114.50 L309.25,114.04 L309.63,113.58 L310.01,113.11 L310.39,112.63 L310.77,112.15 L311.16,111.67 L311.54,111.17 L311.92,110.67 L312.30,110.17 L312.69,109.66 L313.07,109.14 L313.45,108.61 L313.83,108.08 L314.21,107.53 L314.60,106.98 L314.98,106.42 L315.36,105.86 L315.74,105.28 L316.13,104.69 L316.51,104.10 L316.89,103.49 L317.27,102.88 L317.66,102.26 L318.04,101.62 L318.42,100.98 L318.80,100.32 L319.18,99.66 L319.57,98.98 L319.95,98.30 L320.33,97.60 L320.71,96.90 L321.10,96.18 L321.48,95.46 L321.86,94.73 L322.24,93.98 L322.63,93.23 L323.01,92.47 L323.39,91.69 L323.77,90.91 L324.15,90.12 L324.54,89.32 L324.92,88.51 L325.30,87.69 L325.68,86.86 L326.07,86.02 L326.45,85.18 L326.83,84.32 L327.21,83.45 L327.60,82.58 L327.98,81.69 L328.36,80.80 L328.74,79.90 L329.12,78.99 L329.51,78.07 L329.89,77.14 L330.27,76.21 L330.65,75.26 L331.04,74.30 L331.42,73.34 L331.80,72.37 L332.18,71.39 L332.57,70.40 L332.95,69.40 L333.33,68.40 L333.71,67.38 L334.09,66.36 L334.48,65.33 L334.86,64.29 L335.24,63.25 L335.62,62.19 L336.01,61.14 L336.39,60.08 L336.77,59.02 L337.15,57.96 L337.54,56.91 L337.92,55.87 L338.30,54.85 L338.68,53.84 L339.06,52.85 L339.45,51.88 L339.83,50.95 L340.21,50.04 L340.59,49.16 L340.98,48.32 L341.36,47.53 L341.74,46.77 L342.12,46.05 L342.51,45.37 L342.89,44.74 L343.27,44.15 L343.65,43.61 L344.03,43.11 L344.42,42.66 L344.80,42.26 L345.18,41.91 L345.56,41.60 L345.95,41.35 L346.33,41.14 L346.71,40.99 L347.09,40.89 L347.48,40.84 L347.86,40.85 L348.24,40.91 L348.62,41.03 L349.00,41.20 L349.39,41.43 L349.77,41.71 L350.15,42.04 L350.53,42.43 L350.92,42.87 L351.30,43.35 L351.68,43.88 L352.06,44.46 L352.44,45.07 L352.83,45.73 L353.21,46.43 L353.59,47.16 L353.97,47.93 L354.36,48.74 L354.74,49.57 L355.12,50.44 L355.50,51.33 L355.89,52.25 L356.27,53.20 L356.65,54.17 L357.03,55.16 L357.41,56.16 L357.80,57.19 L358.18,58.23 L358.56,59.29 L358.94,60.35 L359.33,61.43 L359.71,62.51 L360.09,63.61 L360.47,64.70 L360.86,65.80 L361.24,66.90 L361.62,68.00 L362.00,69.10 L362.38,70.19 L362.77,71.28 L363.15,72.36 L363.53,73.44 L363.91,74.51 L364.30,75.57 L364.68,76.63 L365.06,77.68 L365.44,78.73 L365.83,79.77 L366.21,80.81 L366.59,81.84 L366.97,82.87 L367.35,83.90 L367.74,84.92 L368.12,85.94 L368.50,86.96 L368.88,87.98 L369.27,88.99 L369.65,90.01 L370.03,91.02 L370.41,92.03 L370.80,93.04 L371.18,94.04 L371.56,95.03 L371.94,96.01 L372.32,96.98 L372.71,97.94 L373.09,98.87 L373.47,99.79 L373.85,100.68 L374.24,101.55 L374.62,102.39 L375.00,103.21 L375.38,103.99 L375.77,104.75 L376.15,105.48 L376.53,106.19 L376.91,106.86 L377.29,107.51 L377.68,108.13 L378.06,108.72 L378.44,109.29 L378.82,109.83 L379.21,110.34 L379.59,110.83 L379.97,111.30 L380.35,111.74 L380.74,112.15 L381.12,112.54 L381.50,112.91 L381.88,113.25 L382.26,113.57 L382.65,113.87 L383.03,114.14 L383.41,114.39 L383.79,114.62 L384.18,114.83 L384.56,115.02 L384.94,115.18 L385.32,115.33 L385.70,115.45 L386.09,115.55 L386.47,115.64 L386.85,115.70 L387.23,115.75 L387.62,115.77 L388.00,115.78 L388.38,115.77 L388.76,115.74 L389.15,115.70 L389.53,115.63 L389.91,115.55 L390.29,115.46 L390.67,115.34 L391.06,115.22 L391.44,115.07 L391.82,114.91 L392.20,114.74 L392.59,114.55 L392.97,114.34 L393.35,114.12 L393.73,113.89 L394.12,113.65 L394.50,113.39 L394.88,113.12 L395.26,112.83 L395.64,112.53 L396.03,112.23 L396.41,111.91 L396.79,111.58 L397.17,111.23 L397.56,110.88 L397.94,110.52 L398.32,110.15 L398.70,109.76 L399.09,109.37 L399.47,108.97 L399.85,108.56 L400.23,108.14 L400.61,107.72 L401.00,107.28 L401.38,106.84 L401.76,106.39 L402.14,105.94 L402.53,105.48 L402.91,105.01 L403.29,104.54 L403.67,104.09 L404.06,103.65 L404.44,103.28 L404.82,102.99" stroke="#f02828"/>
</g>
<rect x="252.00" y="29.50" width="152.70" height="123.30" fill="none" stroke="#383838" stroke-width="1.15"/>
<path d="M252.00,141.40 h-2.6 M252.00,130.18 h-1.5 M252.00,118.95 h-2.6 M252.00,107.72 h-1.5 M252.00,96.50 h-2.6 M252.00,85.28 h-1.5 M252.00,74.05 h-2.6 M252.00,62.83 h-1.5 M252.00,51.60 h-2.6 M252.00,40.38 h-1.5 M252.00,29.15 h-2.6 M251.90,152.80 v2.6 M271.01,152.80 v1.5 M290.13,152.80 v2.6 M309.25,152.80 v1.5 M328.36,152.80 v2.6 M347.48,152.80 v1.5 M366.59,152.80 v2.6 M385.70,152.80 v1.5 M404.82,152.80 v2.6" stroke="#383838" stroke-width="1" fill="none"/>
<text x="248.20" y="144.50" font-family="'Liberation Sans',sans-serif" font-weight="bold" font-size="10.40" text-anchor="end" fill="#111" stroke="#111" stroke-width="0.20" >0.0</text>
<text x="248.20" y="122.05" font-family="'Liberation Sans',sans-serif" font-weight="bold" font-size="10.40" text-anchor="end" fill="#111" stroke="#111" stroke-width="0.20" >0.1</text>
<text x="248.20" y="99.60" font-family="'Liberation Sans',sans-serif" font-weight="bold" font-size="10.40" text-anchor="end" fill="#111" stroke="#111" stroke-width="0.20" >0.2</text>
<text x="248.20" y="77.15" font-family="'Liberation Sans',sans-serif" font-weight="bold" font-size="10.40" text-anchor="end" fill="#111" stroke="#111" stroke-width="0.20" >0.3</text>
<text x="248.20" y="54.70" font-family="'Liberation Sans',sans-serif" font-weight="bold" font-size="10.40" text-anchor="end" fill="#111" stroke="#111" stroke-width="0.20" >0.4</text>
<text x="248.20" y="32.25" font-family="'Liberation Sans',sans-serif" font-weight="bold" font-size="10.40" text-anchor="end" fill="#111" stroke="#111" stroke-width="0.20" >0.5</text>
<text x="251.90" y="164.60" font-family="'Liberation Sans',sans-serif" font-weight="bold" font-size="10.40" text-anchor="middle" fill="#111" stroke="#111" stroke-width="0.20" >400</text>
<text x="290.13" y="164.60" font-family="'Liberation Sans',sans-serif" font-weight="bold" font-size="10.40" text-anchor="middle" fill="#111" stroke="#111" stroke-width="0.20" >500</text>
<text x="328.36" y="164.60" font-family="'Liberation Sans',sans-serif" font-weight="bold" font-size="10.40" text-anchor="middle" fill="#111" stroke="#111" stroke-width="0.20" >600</text>
<text x="366.59" y="164.60" font-family="'Liberation Sans',sans-serif" font-weight="bold" font-size="10.40" text-anchor="middle" fill="#111" stroke="#111" stroke-width="0.20" >700</text>
<text x="404.82" y="164.60" font-family="'Liberation Sans',sans-serif" font-weight="bold" font-size="10.40" text-anchor="middle" fill="#111" stroke="#111" stroke-width="0.20" >800</text>
<text x="328.30" y="182.30" font-family="'Liberation Sans',sans-serif" font-weight="bold" font-size="10.50" text-anchor="middle" fill="#111" stroke="#111" stroke-width="0.20" >Wavelength (nm)</text>
<text x="230.60" y="91.40" font-family="'Liberation Sans',sans-serif" font-weight="bold" font-size="10.40" text-anchor="middle" fill="#111" stroke="#111" stroke-width="0.10" transform="rotate(-90 230.6 91.4)">Absorbance (a.u.)</text>
<text x="220.00" y="21.60" font-family="'Liberation Sans',sans-serif" font-weight="bold" font-size="17.00" text-anchor="start" fill="#111" stroke="#111" stroke-width="0.15" >B</text>
<path d="M255,36.50 H274" stroke="#f02828" stroke-width="1.8"/>
<text x="275.80" y="39.10" font-family="'Liberation Sans',sans-serif" font-weight="bold" font-size="8.10" text-anchor="start" fill="#111" stroke="#111" stroke-width="0.20" >Fe-N-C</text>
<path d="M255,46.20 H274" stroke="#2b7fd4" stroke-width="1.8"/>
<text x="275.80" y="48.80" font-family="'Liberation Sans',sans-serif" font-weight="bold" font-size="8.10" text-anchor="start" fill="#111" stroke="#111" stroke-width="0.20" >Fe<tspan font-size="5.5" dy="2">3</tspan><tspan dy="-2">O</tspan><tspan font-size="5.5" dy="2">4</tspan></text>
<path d="M255,58.50 H274" stroke="#2aa82a" stroke-width="1.8"/>
<text x="275.80" y="61.10" font-family="'Liberation Sans',sans-serif" font-weight="bold" font-size="8.10" text-anchor="start" fill="#111" stroke="#111" stroke-width="0.20" >ZIF-8@Fc</text>
<path d="M255,68.80 H274" stroke="#111" stroke-width="1.8"/>
<text x="275.80" y="71.40" font-family="'Liberation Sans',sans-serif" font-weight="bold" font-size="8.10" text-anchor="start" fill="#111" stroke="#111" stroke-width="0.20" >ZIF-8</text>
<rect x="44.70" y="318.11" width="15.2" height="15.19" fill="#2a9fd9" stroke="#4a4a4a" stroke-width="0.6"/>
<path d="M52.30,317.29 V318.93 M50.80,317.29 h3 M50.80,318.93 h3" stroke="#222" stroke-width="0.9"/>
<rect x="63.80" y="229.62" width="15.2" height="103.68" fill="#2a9fd9" stroke="#4a4a4a" stroke-width="0.6"/>
<path d="M71.40,225.72 V233.52 M69.90,225.72 h3 M69.90,233.52 h3" stroke="#222" stroke-width="0.9"/>
<rect x="82.90" y="271.30" width="15.2" height="62.00" fill="#2a9fd9" stroke="#4a4a4a" stroke-width="0.6"/>
<path d="M90.50,268.43 V274.17 M89.00,268.43 h3 M89.00,274.17 h3" stroke="#222" stroke-width="0.9"/>
<rect x="102.00" y="310.72" width="15.2" height="22.58" fill="#2a9fd9" stroke="#4a4a4a" stroke-width="0.6"/>
<path d="M109.60,309.07 V312.36 M108.10,309.07 h3 M108.10,312.36 h3" stroke="#222" stroke-width="0.9"/>
<rect x="121.10" y="324.68" width="15.2" height="8.62" fill="#2a9fd9" stroke="#4a4a4a" stroke-width="0.6"/>
<path d="M128.70,324.06 V325.29 M127.20,324.06 h3 M127.20,325.29 h3" stroke="#222" stroke-width="0.9"/>
<rect x="140.20" y="325.70" width="15.2" height="7.60" fill="#2a9fd9" stroke="#4a4a4a" stroke-width="0.6"/>
<path d="M147.80,324.88 V326.53 M146.30,324.88 h3 M146.30,326.53 h3" stroke="#222" stroke-width="0.9"/>
<rect x="159.30" y="326.11" width="15.2" height="7.19" fill="#2a9fd9" stroke="#4a4a4a" stroke-width="0.6"/>
<path d="M166.90,325.50 V326.73 M165.40,325.50 h3 M165.40,326.73 h3" stroke="#222" stroke-width="0.9"/>
<rect x="178.40" y="327.35" width="15.2" height="5.95" fill="#2a9fd9" stroke="#4a4a4a" stroke-width="0.6"/>
<path d="M186.00,326.73 V327.96 M184.50,326.73 h3 M184.50,327.96 h3" stroke="#222" stroke-width="0.9"/>
<linearGradient id="ibgC2" x1="0" y1="0" x2="1" y2="0.4"><stop offset="0" stop-color="#d9d9d9"/><stop offset="0.5" stop-color="#e2e2e2"/><stop offset="1" stop-color="#e9e9e9"/></linearGradient>
<rect x="110.4" y="212.4" width="83.2" height="40" fill="url(#ibgC2)"/>
<clipPath id="cpC"><rect x="110.4" y="212.4" width="83.2" height="40"/></clipPath>
<g clip-path="url(#cpC)">
<path d="M115.13,249.36 A38,44 0 0 1 188.87,249.36 L173.35,254.44 A22,23 0 0 0 130.65,254.44 Z" fill="#f4f4f4" opacity="0.75"/>
<path d="M129.68,254.19 L116.10,249.60 M132.71,246.93 L120.97,236.58 M137.84,241.09 L129.22,226.12 M144.51,237.31 L139.95,219.34 M152.00,236.00 L152.00,217.00 M159.49,237.31 L164.05,219.34 M166.16,241.09 L174.78,226.12 M171.29,246.93 L183.03,236.58 M174.32,254.19 L187.90,249.60" stroke="#d2d2d2" stroke-width="0.7" fill="none"/>
<path d="M154,236 L160,234 L178,250 L172,254 Z" fill="#e6e6e2" opacity="0.9"/>
<rect x="133.75" y="244.00" width="5.50" height="6.00" rx="1.5" fill="#c8d860" opacity="1.00" transform="rotate(-40.0 136.50 247.00)"/>
<rect x="136.00" y="237.25" width="6.00" height="8.50" rx="1.5" fill="#30b070" opacity="1.00" transform="rotate(-35.0 139.00 241.50)"/>
<rect x="141.05" y="233.00" width="5.50" height="8.00" rx="1.5" fill="#38c0c8" opacity="1.00" transform="rotate(-20.0 143.80 237.00)"/>
<rect x="146.55" y="231.80" width="5.50" height="8.00" rx="1.5" fill="#a0d8e0" opacity="1.00" transform="rotate(-5.0 149.30 235.80)"/>
<rect x="152.75" y="233.00" width="5.50" height="8.00" rx="1.5" fill="#e2e8e4" opacity="1.00" transform="rotate(15.0 155.50 237.00)"/>
</g>
<text x="124.10" y="244.80" font-family="'Liberation Sans',sans-serif" font-weight="bold" font-size="9.70" text-anchor="middle" fill="#111" stroke="#111" stroke-width="0.30" >2</text>
<text x="128.40" y="235.50" font-family="'Liberation Sans',sans-serif" font-weight="bold" font-size="9.70" text-anchor="middle" fill="#111" stroke="#111" stroke-width="0.30" >3</text>
<text x="135.90" y="230.40" font-family="'Liberation Sans',sans-serif" font-weight="bold" font-size="9.70" text-anchor="middle" fill="#111" stroke="#111" stroke-width="0.30" >4</text>
<text x="146.60" y="227.00" font-family="'Liberation Sans',sans-serif" font-weight="bold" font-size="9.70" text-anchor="middle" fill="#111" stroke="#111" stroke-width="0.30" >5</text>
<text x="156.90" y="227.00" font-family="'Liberation Sans',sans-serif" font-weight="bold" font-size="9.70" text-anchor="middle" fill="#111" stroke="#111" stroke-width="0.30" >6</text>
<text x="166.40" y="230.40" font-family="'Liberation Sans',sans-serif" font-weight="bold" font-size="9.70" text-anchor="middle" fill="#111" stroke="#111" stroke-width="0.30" >7</text>
<text x="174.10" y="237.30" font-family="'Liberation Sans',sans-serif" font-weight="bold" font-size="9.70" text-anchor="middle" fill="#111" stroke="#111" stroke-width="0.30" >8</text>
<text x="178.80" y="246.90" font-family="'Liberation Sans',sans-serif" font-weight="bold" font-size="9.70" text-anchor="middle" fill="#111" stroke="#111" stroke-width="0.30" >9</text>
<rect x="42.70" y="210.20" width="152.50" height="123.10" fill="none" stroke="#383838" stroke-width="1.15"/>
<path d="M42.7,333.30 h-2.6 M42.7,312.77 h-1.5 M42.7,292.24 h-2.6 M42.7,271.71 h-1.5 M42.7,251.18 h-2.6 M42.7,230.65 h-1.5 M42.7,210.12 h-2.6 M52.30,333.3 v2.2 M71.40,333.3 v2.2 M90.50,333.3 v2.2 M109.60,333.3 v2.2 M128.70,333.3 v2.2 M147.80,333.3 v2.2 M166.90,333.3 v2.2 M186.00,333.3 v2.2 M42.75,333.3 v1.4 M61.85,333.3 v1.4 M80.95,333.3 v1.4 M100.05,333.3 v1.4 M119.15,333.3 v1.4 M138.25,333.3 v1.4 M157.35,333.3 v1.4 M176.45,333.3 v1.4 M195.55,333.3 v1.4" stroke="#383838" stroke-width="1" fill="none"/>
<text x="38.50" y="336.40" font-family="'Liberation Sans',sans-serif" font-weight="bold" font-size="10.40" text-anchor="end" fill="#111" stroke="#111" stroke-width="0.20" >0.0</text>
<text x="38.50" y="295.34" font-family="'Liberation Sans',sans-serif" font-weight="bold" font-size="10.40" text-anchor="end" fill="#111" stroke="#111" stroke-width="0.20" >0.2</text>
<text x="38.50" y="254.28" font-family="'Liberation Sans',sans-serif" font-weight="bold" font-size="10.40" text-anchor="end" fill="#111" stroke="#111" stroke-width="0.20" >0.4</text>
<text x="38.50" y="213.22" font-family="'Liberation Sans',sans-serif" font-weight="bold" font-size="10.40" text-anchor="end" fill="#111" stroke="#111" stroke-width="0.20" >0.6</text>
<text x="52.30" y="345.60" font-family="'Liberation Sans',sans-serif" font-weight="bold" font-size="10.40" text-anchor="middle" fill="#111" stroke="#111" stroke-width="0.20" >2</text>
<text x="71.40" y="345.60" font-family="'Liberation Sans',sans-serif" font-weight="bold" font-size="10.40" text-anchor="middle" fill="#111" stroke="#111" stroke-width="0.20" >3</text>
<text x="90.50" y="345.60" font-family="'Liberation Sans',sans-serif" font-weight="bold" font-size="10.40" text-anchor="middle" fill="#111" stroke="#111" stroke-width="0.20" >4</text>
<text x="109.60" y="345.60" font-family="'Liberation Sans',sans-serif" font-weight="bold" font-size="10.40" text-anchor="middle" fill="#111" stroke="#111" stroke-width="0.20" >5</text>
<text x="128.70" y="345.60" font-family="'Liberation Sans',sans-serif" font-weight="bold" font-size="10.40" text-anchor="middle" fill="#111" stroke="#111" stroke-width="0.20" >6</text>
<text x="147.80" y="345.60" font-family="'Liberation Sans',sans-serif" font-weight="bold" font-size="10.40" text-anchor="middle" fill="#111" stroke="#111" stroke-width="0.20" >7</text>
<text x="166.90" y="345.60" font-family="'Liberation Sans',sans-serif" font-weight="bold" font-size="10.40" text-anchor="middle" fill="#111" stroke="#111" stroke-width="0.20" >8</text>
<text x="186.00" y="345.60" font-family="'Liberation Sans',sans-serif" font-weight="bold" font-size="10.40" text-anchor="middle" fill="#111" stroke="#111" stroke-width="0.20" >9</text>
<text x="119.20" y="361.60" font-family="'Liberation Sans',sans-serif" font-weight="bold" font-size="10.40" text-anchor="middle" fill="#111" stroke="#111" stroke-width="0.20" >pH</text>
<text x="21.90" y="271.20" font-family="'Liberation Sans',sans-serif" font-weight="bold" font-size="10.40" text-anchor="middle" fill="#111" stroke="#111" stroke-width="0.10" transform="rotate(-90 21.9 271.2)">Absorbance (a.u.)</text>
<text x="10.70" y="202.40" font-family="'Liberation Sans',sans-serif" font-weight="bold" font-size="17.00" text-anchor="start" fill="#111" stroke="#111" stroke-width="0.15" >C</text>
<path d="M327.30,262.95 A18.95,18.95 0 1 1 311.66,292.60 L318.88,287.66 A10.20,10.20 0 1 0 327.30,271.70 Z" fill="#a9dbf2"/>
<path d="M327.30,253.23 A28.67,28.67 0 1 1 299.36,288.33 L307.89,286.37 A19.92,19.92 0 1 0 327.30,261.98 Z" fill="#3dc2ec"/>
<path d="M327.30,243.51 A38.39,38.39 0 1 1 289.89,290.51 L298.42,288.55 A29.64,29.64 0 1 0 327.30,252.26 Z" fill="#5cb6e6"/>
<path d="M327.30,233.79 A48.11,48.11 0 1 1 282.12,298.43 L290.34,295.43 A39.36,39.36 0 1 0 327.30,242.54 Z" fill="#4aa6dd"/>
<path d="M327.30,224.07 A57.83,57.83 0 1 1 284.00,320.23 L290.55,314.43 A49.08,49.08 0 1 0 327.30,232.82 Z" fill="#add5f0"/>
<path d="M327.30,214.35 A67.55,67.55 0 1 1 282.68,332.62 L288.46,326.05 A58.80,58.80 0 1 0 327.30,223.10 Z" fill="#c6cce9"/>
<text x="289.30" y="211.30" font-family="'Liberation Sans',sans-serif" font-weight="bold" font-size="9.00" text-anchor="start" fill="#111" stroke="#111" stroke-width="0.20" >Temperature (°C)</text>
<text x="326.00" y="222.10" font-family="'Liberation Sans',sans-serif" font-weight="bold" font-size="8.90" text-anchor="end" fill="#111" stroke="#111" stroke-width="0.25" >50</text>
<text x="326.00" y="231.20" font-family="'Liberation Sans',sans-serif" font-weight="bold" font-size="8.90" text-anchor="end" fill="#111" stroke="#111" stroke-width="0.25" >45</text>
<text x="326.00" y="241.30" font-family="'Liberation Sans',sans-serif" font-weight="bold" font-size="8.90" text-anchor="end" fill="#111" stroke="#111" stroke-width="0.25" >40</text>
<text x="326.00" y="251.40" font-family="'Liberation Sans',sans-serif" font-weight="bold" font-size="8.90" text-anchor="end" fill="#111" stroke="#111" stroke-width="0.25" >35</text>
<text x="326.00" y="261.00" font-family="'Liberation Sans',sans-serif" font-weight="bold" font-size="8.90" text-anchor="end" fill="#111" stroke="#111" stroke-width="0.25" >30</text>
<text x="326.00" y="270.50" font-family="'Liberation Sans',sans-serif" font-weight="bold" font-size="8.90" text-anchor="end" fill="#111" stroke="#111" stroke-width="0.25" >20</text>
<text x="316.00" y="288.00" font-family="'Liberation Sans',sans-serif" font-weight="bold" font-size="7.00" text-anchor="middle" fill="#111" stroke="#111" stroke-width="0.20" >0.33</text>
<text x="302.40" y="284.70" font-family="'Liberation Sans',sans-serif" font-weight="bold" font-size="7.00" text-anchor="middle" fill="#111" stroke="#111" stroke-width="0.20" >0.36</text>
<text x="290.55" y="290.50" font-family="'Liberation Sans',sans-serif" font-weight="bold" font-size="7.00" text-anchor="middle" fill="#111" stroke="#111" stroke-width="0.20" >0.36</text>
<text x="280.40" y="296.00" font-family="'Liberation Sans',sans-serif" font-weight="bold" font-size="7.00" text-anchor="middle" fill="#111" stroke="#111" stroke-width="0.20" >0.35</text>
<text x="280.05" y="317.90" font-family="'Liberation Sans',sans-serif" font-weight="bold" font-size="7.00" text-anchor="middle" fill="#111" stroke="#111" stroke-width="0.20" >0.32</text>
<text x="278.95" y="331.20" font-family="'Liberation Sans',sans-serif" font-weight="bold" font-size="7.00" text-anchor="middle" fill="#111" stroke="#111" stroke-width="0.20" >0.31</text>
<text x="220.00" y="202.40" font-family="'Liberation Sans',sans-serif" font-weight="bold" font-size="17.00" text-anchor="start" fill="#111" stroke="#111" stroke-width="0.15" >D</text>
<path d="M139.89,448.50 L139.43,450.73 L140.40,453.22 L139.76,460.95 L132.59,473.42 L100.10,479.85 L67.49,448.50 L89.47,398.74 L149.80,393.77 Z" fill="#fcdce2" stroke="none"/>
<circle cx="118.20" cy="448.50" r="33.50" fill="none" stroke="#c8c8c8" stroke-opacity="0.7" stroke-width="0.8"/>
<circle cx="118.20" cy="448.50" r="47.00" fill="none" stroke="#c8c8c8" stroke-opacity="0.7" stroke-width="0.8"/>
<circle cx="118.20" cy="448.50" r="60.50" fill="none" stroke="#c8c8c8" stroke-opacity="0.7" stroke-width="0.8"/>
<path d="M138.20,448.50 L188.70,448.50" stroke="#9a9a9a" stroke-width="0.7" stroke-dasharray="1.6,1.4"/>
<path d="M138.09,450.59 L188.31,455.87" stroke="#9a9a9a" stroke-width="0.7" stroke-dasharray="1.6,1.4"/>
<path d="M137.76,452.66 L187.16,463.16" stroke="#9a9a9a" stroke-width="0.7" stroke-dasharray="1.6,1.4"/>
<path d="M135.52,458.50 L179.25,483.75" stroke="#9a9a9a" stroke-width="0.7" stroke-dasharray="1.6,1.4"/>
<path d="M128.20,465.82 L153.45,509.55" stroke="#9a9a9a" stroke-width="0.7" stroke-dasharray="1.6,1.4"/>
<path d="M108.20,465.82 L82.95,509.55" stroke="#9a9a9a" stroke-width="0.7" stroke-dasharray="1.6,1.4"/>
<path d="M98.20,448.50 L47.70,448.50" stroke="#9a9a9a" stroke-width="0.7" stroke-dasharray="1.6,1.4"/>
<path d="M108.20,431.18 L82.95,387.45" stroke="#9a9a9a" stroke-width="0.7" stroke-dasharray="1.6,1.4"/>
<path d="M128.20,431.18 L153.45,387.45" stroke="#9a9a9a" stroke-width="0.7" stroke-dasharray="1.6,1.4"/>
<circle cx="118.20" cy="448.50" r="70.5" fill="none" stroke="#444" stroke-width="1.0"/>
<path d="M139.89,448.50 L139.43,450.73 L140.40,453.22 L139.76,460.95 L132.59,473.42 L100.10,479.85 L67.49,448.50 L89.47,398.74 L149.80,393.77 Z" fill="none" stroke="#3a8fd4" stroke-width="1.05"/>
<circle cx="118.20" cy="448.50" r="20.3" fill="#fff" stroke="#111" stroke-width="1.7"/>
<path d="M137.70,448.50 L136.00,448.50 M135.09,458.25 L133.62,457.40 M127.95,465.39 L127.10,463.92 M118.20,468.00 L118.20,466.30 M108.45,465.39 L109.30,463.92 M101.31,458.25 L102.78,457.40 M98.70,448.50 L100.40,448.50 M101.31,438.75 L102.78,439.60 M108.45,431.61 L109.30,433.08 M118.20,429.00 L118.20,430.70 M127.95,431.61 L127.10,433.08 M135.09,438.75 L133.62,439.60" stroke="#111" stroke-width="0.8"/>
<path d="M188.70,448.50 L186.70,448.50 M188.31,455.87 L186.32,455.66 M187.16,463.16 L185.20,462.74 M179.25,483.75 L177.52,482.75 M153.45,509.55 L152.45,507.82 M82.95,509.55 L83.95,507.82 M47.70,448.50 L49.70,448.50 M82.95,387.45 L83.95,389.18 M153.45,387.45 L152.45,389.18" stroke="#3a3a3a" stroke-width="0.9"/>
<circle cx="139.89" cy="448.50" r="2.9" fill="#1f7fd4" stroke="#1f7fd4" stroke-width="0.6"/>
<path d="M139.69,446.60 A1.9,1.9 0 0 0 139.69,450.40 Z" fill="#fff"/>
<circle cx="139.43" cy="450.73" r="2.9" fill="#1f7fd4" stroke="#1f7fd4" stroke-width="0.6"/>
<path d="M139.23,448.83 A1.9,1.9 0 0 0 139.23,452.63 Z" fill="#fff"/>
<circle cx="140.40" cy="453.22" r="2.9" fill="#1f7fd4" stroke="#1f7fd4" stroke-width="0.6"/>
<path d="M140.20,451.32 A1.9,1.9 0 0 0 140.20,455.12 Z" fill="#fff"/>
<circle cx="139.76" cy="460.95" r="2.9" fill="#1f7fd4" stroke="#1f7fd4" stroke-width="0.6"/>
<path d="M139.56,459.05 A1.9,1.9 0 0 0 139.56,462.85 Z" fill="#fff"/>
<circle cx="132.59" cy="473.42" r="2.9" fill="#1f7fd4" stroke="#1f7fd4" stroke-width="0.6"/>
<path d="M132.39,471.52 A1.9,1.9 0 0 0 132.39,475.32 Z" fill="#fff"/>
<circle cx="100.10" cy="479.85" r="2.9" fill="#1f7fd4" stroke="#1f7fd4" stroke-width="0.6"/>
<path d="M99.90,477.95 A1.9,1.9 0 0 0 99.90,481.75 Z" fill="#fff"/>
<circle cx="67.49" cy="448.50" r="2.9" fill="#1f7fd4" stroke="#1f7fd4" stroke-width="0.6"/>
<path d="M67.29,446.60 A1.9,1.9 0 0 0 67.29,450.40 Z" fill="#fff"/>
<circle cx="89.47" cy="398.74" r="2.9" fill="#1f7fd4" stroke="#1f7fd4" stroke-width="0.6"/>
<path d="M89.27,396.84 A1.9,1.9 0 0 0 89.27,400.64 Z" fill="#fff"/>
<circle cx="149.80" cy="393.77" r="2.9" fill="#1f7fd4" stroke="#1f7fd4" stroke-width="0.6"/>
<path d="M149.60,391.87 A1.9,1.9 0 0 0 149.60,395.67 Z" fill="#fff"/>
<rect x="110.70" y="379.40" width="15" height="8" fill="none"/>
<text x="118.20" y="387.60" font-family="'Liberation Sans',sans-serif" font-weight="bold" font-size="10.50" text-anchor="middle" fill="#111" stroke="#111" stroke-width="0.20" >1.2</text>
<rect x="110.70" y="393.30" width="15" height="8" fill="none"/>
<text x="118.20" y="401.50" font-family="'Liberation Sans',sans-serif" font-weight="bold" font-size="10.50" text-anchor="middle" fill="#111" stroke="#111" stroke-width="0.20" >0.8</text>
<rect x="110.70" y="406.00" width="15" height="8" fill="none"/>
<text x="118.20" y="414.20" font-family="'Liberation Sans',sans-serif" font-weight="bold" font-size="10.50" text-anchor="middle" fill="#111" stroke="#111" stroke-width="0.20" >0.4</text>
<rect x="110.70" y="420.00" width="15" height="8" fill="none"/>
<text x="118.20" y="428.20" font-family="'Liberation Sans',sans-serif" font-weight="bold" font-size="10.50" text-anchor="middle" fill="#111" stroke="#111" stroke-width="0.20" >0.0</text>
<text x="193.40" y="451.90" font-family="'Liberation Sans',sans-serif" font-weight="bold" font-size="10.60" text-anchor="middle" fill="#111" stroke="#111" stroke-width="0.20" >0</text>
<text x="193.30" y="461.00" font-family="'Liberation Sans',sans-serif" font-weight="bold" font-size="10.60" text-anchor="middle" fill="#111" stroke="#111" stroke-width="0.20" >1</text>
<text x="192.00" y="468.60" font-family="'Liberation Sans',sans-serif" font-weight="bold" font-size="10.60" text-anchor="middle" fill="#111" stroke="#111" stroke-width="0.20" >2</text>
<text x="183.90" y="491.20" font-family="'Liberation Sans',sans-serif" font-weight="bold" font-size="10.60" text-anchor="middle" fill="#111" stroke="#111" stroke-width="0.20" >5</text>
<text x="156.40" y="520.30" font-family="'Liberation Sans',sans-serif" font-weight="bold" font-size="10.60" text-anchor="middle" fill="#111" stroke="#111" stroke-width="0.20" >10</text>
<text x="79.50" y="520.30" font-family="'Liberation Sans',sans-serif" font-weight="bold" font-size="10.60" text-anchor="middle" fill="#111" stroke="#111" stroke-width="0.20" >20</text>
<text x="40.00" y="451.60" font-family="'Liberation Sans',sans-serif" font-weight="bold" font-size="10.60" text-anchor="middle" fill="#111" stroke="#111" stroke-width="0.20" >30</text>
<text x="79.00" y="384.70" font-family="'Liberation Sans',sans-serif" font-weight="bold" font-size="10.60" text-anchor="middle" fill="#111" stroke="#111" stroke-width="0.20" >40</text>
<text x="157.60" y="385.90" font-family="'Liberation Sans',sans-serif" font-weight="bold" font-size="10.60" text-anchor="middle" fill="#111" stroke="#111" stroke-width="0.20" >50</text>
<text x="123.90" y="539.50" font-family="'Liberation Sans',sans-serif" font-weight="bold" font-size="10.30" text-anchor="middle" fill="#111" stroke="#111" stroke-width="0.20" >[Fe-N-C] (μg mL<tspan font-size="6.7" dy="-4.2">−1</tspan><tspan dy="4.2">)</tspan></text>
<text x="11.10" y="381.20" font-family="'Liberation Sans',sans-serif" font-weight="bold" font-size="17.00" text-anchor="start" fill="#111" stroke="#111" stroke-width="0.15" >E</text>
<path d="M255.10,510.70 L256.08,509.12 L257.07,507.57 L258.05,506.04 L259.04,504.53 L260.02,503.05 L261.01,501.58 L261.99,500.14 L262.98,498.72 L263.96,497.32 L264.95,495.94 L265.93,494.58 L266.91,493.24 L267.90,491.92 L268.88,490.61 L269.87,489.33 L270.85,488.06 L271.84,486.81 L272.82,485.57 L273.81,484.36 L274.79,483.16 L275.78,481.97 L276.76,480.80 L277.74,479.65 L278.73,478.51 L279.71,477.39 L280.70,476.28 L281.68,475.18 L282.67,474.10 L283.65,473.03 L284.64,471.98 L285.62,470.94 L286.61,469.91 L287.59,468.89 L288.58,467.89 L289.56,466.90 L290.54,465.92 L291.53,464.95 L292.51,464.00 L293.50,463.05 L294.48,462.12 L295.47,461.20 L296.45,460.28 L297.44,459.38 L298.42,458.49 L299.41,457.61 L300.39,456.74 L301.37,455.88 L302.36,455.03 L303.34,454.19 L304.33,453.36 L305.31,452.54 L306.30,451.72 L307.28,450.92 L308.27,450.12 L309.25,449.33 L310.24,448.56 L311.22,447.79 L312.20,447.02 L313.19,446.27 L314.17,445.52 L315.16,444.78 L316.14,444.05 L317.13,443.33 L318.11,442.62 L319.10,441.91 L320.08,441.21 L321.07,440.51 L322.05,439.83 L323.03,439.15 L324.02,438.47 L325.00,437.81 L325.99,437.15 L326.97,436.50 L327.96,435.85 L328.94,435.21 L329.93,434.57 L330.91,433.95 L331.90,433.32 L332.88,432.71 L333.87,432.10 L334.85,431.49 L335.83,430.90 L336.82,430.30 L337.80,429.72 L338.79,429.13 L339.77,428.56 L340.76,427.99 L341.74,427.42 L342.73,426.86 L343.71,426.30 L344.70,425.75 L345.68,425.21 L346.66,424.67 L347.65,424.13 L348.63,423.60 L349.62,423.07 L350.60,422.55 L351.59,422.04 L352.57,421.52 L353.56,421.01 L354.54,420.51 L355.53,420.01 L356.51,419.52 L357.49,419.03 L358.48,418.54 L359.46,418.06 L360.45,417.58 L361.43,417.10 L362.42,416.63 L363.40,416.17 L364.39,415.70 L365.37,415.25 L366.36,414.79 L367.34,414.34 L368.32,413.89 L369.31,413.45 L370.29,413.01 L371.28,412.57 L372.26,412.14 L373.25,411.71 L374.23,411.28 L375.22,410.86 L376.20,410.44 L377.19,410.02 L378.17,409.61 L379.16,409.20 L380.14,408.79 L381.12,408.39 L382.11,407.99 L383.09,407.59 L384.08,407.20 L385.06,406.81 L386.05,406.42 L387.03,406.04 L388.02,405.65 L389.00,405.27 L389.99,404.90 L390.97,404.52 L391.95,404.15 L392.94,403.78 L393.92,403.42 L394.91,403.06 L395.89,402.70 L396.88,402.34 L397.86,401.98 L398.85,401.63 L399.83,401.28 L400.82,400.93 L401.80,400.59" fill="none" stroke="#9a9a9a" stroke-width="1.1"/>
<path d="M352.90,420.72 V427.57 M350.90,420.72 h4 M350.90,427.57 h4" stroke="#2a8fd6" stroke-width="0.9"/>
<circle cx="259.99" cy="499.94" r="2.9" fill="#2a8fd6"/>
<circle cx="264.88" cy="493.10" r="2.9" fill="#2a8fd6"/>
<circle cx="269.77" cy="487.23" r="2.9" fill="#2a8fd6"/>
<circle cx="279.55" cy="477.94" r="2.9" fill="#2a8fd6"/>
<circle cx="294.22" cy="459.36" r="2.9" fill="#2a8fd6"/>
<circle cx="304.00" cy="454.46" r="2.9" fill="#2a8fd6"/>
<circle cx="328.45" cy="439.79" r="2.9" fill="#2a8fd6"/>
<circle cx="352.90" cy="424.15" r="2.9" fill="#2a8fd6"/>
<circle cx="401.80" cy="397.25" r="2.9" fill="#2a8fd6"/>
<rect x="254.90" y="388.40" width="151.30" height="122.30" fill="none" stroke="#383838" stroke-width="1.15"/>
<path d="M254.9,510.70 h-2.8 M254.9,498.47 h-1.6 M254.9,486.25 h-2.8 M254.9,474.02 h-1.6 M254.9,461.80 h-2.8 M254.9,449.57 h-1.6 M254.9,437.35 h-2.8 M254.9,425.12 h-1.6 M254.9,412.90 h-2.8 M254.9,400.68 h-1.6 M254.9,388.45 h-2.8 M255.10,510.7 v2.6 M264.88,510.7 v1.6 M274.66,510.7 v1.6 M284.44,510.7 v1.6 M294.22,510.7 v1.6 M304.00,510.7 v2.6 M313.78,510.7 v1.6 M323.56,510.7 v1.6 M333.34,510.7 v1.6 M343.12,510.7 v1.6 M352.90,510.7 v2.6 M362.68,510.7 v1.6 M372.46,510.7 v1.6 M382.24,510.7 v1.6 M392.02,510.7 v1.6 M401.80,510.7 v2.6" stroke="#383838" stroke-width="1" fill="none"/>
<text x="251.00" y="514.40" font-family="'Liberation Sans',sans-serif" font-weight="bold" font-size="10.40" text-anchor="end" fill="#111" stroke="#111" stroke-width="0.20" >0.0</text>
<text x="251.00" y="489.95" font-family="'Liberation Sans',sans-serif" font-weight="bold" font-size="10.40" text-anchor="end" fill="#111" stroke="#111" stroke-width="0.20" >0.5</text>
<text x="251.00" y="465.50" font-family="'Liberation Sans',sans-serif" font-weight="bold" font-size="10.40" text-anchor="end" fill="#111" stroke="#111" stroke-width="0.20" >1.0</text>
<text x="251.00" y="441.05" font-family="'Liberation Sans',sans-serif" font-weight="bold" font-size="10.40" text-anchor="end" fill="#111" stroke="#111" stroke-width="0.20" >1.5</text>
<text x="251.00" y="416.60" font-family="'Liberation Sans',sans-serif" font-weight="bold" font-size="10.40" text-anchor="end" fill="#111" stroke="#111" stroke-width="0.20" >2.0</text>
<text x="251.00" y="392.15" font-family="'Liberation Sans',sans-serif" font-weight="bold" font-size="10.40" text-anchor="end" fill="#111" stroke="#111" stroke-width="0.20" >2.5</text>
<text x="255.10" y="523.90" font-family="'Liberation Sans',sans-serif" font-weight="bold" font-size="10.40" text-anchor="middle" fill="#111" stroke="#111" stroke-width="0.20" >0</text>
<text x="304.00" y="523.90" font-family="'Liberation Sans',sans-serif" font-weight="bold" font-size="10.40" text-anchor="middle" fill="#111" stroke="#111" stroke-width="0.20" >100</text>
<text x="352.90" y="523.90" font-family="'Liberation Sans',sans-serif" font-weight="bold" font-size="10.40" text-anchor="middle" fill="#111" stroke="#111" stroke-width="0.20" >200</text>
<text x="401.80" y="523.90" font-family="'Liberation Sans',sans-serif" font-weight="bold" font-size="10.40" text-anchor="middle" fill="#111" stroke="#111" stroke-width="0.20" >300</text>
<text x="331.50" y="539.80" font-family="'Liberation Sans',sans-serif" font-weight="bold" font-size="10.80" text-anchor="middle" fill="#111" stroke="#111" stroke-width="0.20" >[TMB] (μM)</text>
<text x="233.60" y="441.20" font-family="'Liberation Sans',sans-serif" font-weight="bold" font-size="11.20" text-anchor="middle" fill="#111" stroke="#111" stroke-width="0.12" transform="rotate(-90 233.6 441.2)"><tspan font-style="italic">v</tspan> (10<tspan font-size="7.2" dy="-4.5">−8</tspan><tspan dy="4.5"> M s</tspan><tspan font-size="7.2" dy="-4.5">−1</tspan><tspan dy="4.5">)</tspan></text>
<text x="220.70" y="381.20" font-family="'Liberation Sans',sans-serif" font-weight="bold" font-size="17.00" text-anchor="start" fill="#111" stroke="#111" stroke-width="0.15" >F</text>
<rect x="333.6" y="440.4" width="71.2" height="57.1" fill="#fff" stroke="#333" stroke-width="0.7"/>
<path d="M333.6,497 L399.8,445.6" stroke="#ababab" stroke-width="0.8"/>
<circle cx="334.90" cy="495.00" r="1.8" fill="#2a8fd6"/>
<circle cx="341.00" cy="489.00" r="1.8" fill="#2a8fd6"/>
<circle cx="347.30" cy="483.30" r="1.8" fill="#2a8fd6"/>
<circle cx="360.40" cy="475.90" r="1.8" fill="#2a8fd6"/>
<circle cx="370.10" cy="468.50" r="1.8" fill="#2a8fd6"/>
<circle cx="399.40" cy="449.40" r="1.8" fill="#2a8fd6"/>
<path d="M399.4,446.5 V452.3 M398.4,446.5 h2 M398.4,452.3 h2" stroke="#2a8fd6" stroke-width="0.5"/>
<text x="332.00" y="497.44" font-family="'Liberation Sans',sans-serif" font-weight="bold" font-size="4.60" text-anchor="end" fill="#111" >0.4</text>
<text x="332.00" y="488.96" font-family="'Liberation Sans',sans-serif" font-weight="bold" font-size="4.60" text-anchor="end" fill="#111" >0.6</text>
<text x="332.00" y="480.48" font-family="'Liberation Sans',sans-serif" font-weight="bold" font-size="4.60" text-anchor="end" fill="#111" >0.8</text>
<text x="332.00" y="472.00" font-family="'Liberation Sans',sans-serif" font-weight="bold" font-size="4.60" text-anchor="end" fill="#111" >1.0</text>
<text x="332.00" y="463.52" font-family="'Liberation Sans',sans-serif" font-weight="bold" font-size="4.60" text-anchor="end" fill="#111" >1.2</text>
<text x="332.00" y="455.04" font-family="'Liberation Sans',sans-serif" font-weight="bold" font-size="4.60" text-anchor="end" fill="#111" >1.4</text>
<text x="332.00" y="446.56" font-family="'Liberation Sans',sans-serif" font-weight="bold" font-size="4.60" text-anchor="end" fill="#111" >1.6</text>
<text x="341.35" y="503.60" font-family="'Liberation Sans',sans-serif" font-weight="bold" font-size="4.60" text-anchor="middle" fill="#111" >0.005</text>
<text x="360.70" y="503.60" font-family="'Liberation Sans',sans-serif" font-weight="bold" font-size="4.60" text-anchor="middle" fill="#111" >0.010</text>
<text x="380.05" y="503.60" font-family="'Liberation Sans',sans-serif" font-weight="bold" font-size="4.60" text-anchor="middle" fill="#111" >0.015</text>
<text x="399.40" y="503.60" font-family="'Liberation Sans',sans-serif" font-weight="bold" font-size="4.60" text-anchor="middle" fill="#111" >0.020</text>
<path d="M333.6,495.84 h-1.2 M333.6,487.36 h-1.2 M333.6,478.88 h-1.2 M333.6,470.40 h-1.2 M333.6,461.92 h-1.2 M333.6,453.44 h-1.2 M333.6,444.96 h-1.2 M341.35,497.5 v1.2 M360.70,497.5 v1.2 M380.05,497.5 v1.2 M399.40,497.5 v1.2" stroke="#333" stroke-width="0.5"/>
<text x="367.50" y="508.50" font-family="'Liberation Sans',sans-serif" font-weight="normal" font-size="4.30" text-anchor="middle" fill="#111" >[TMB] (μM<tspan font-size="3.2" dy="-1.6">−1</tspan><tspan dy="1.6">)</tspan></text>
<text x="322.70" y="470.20" font-family="'Liberation Sans',sans-serif" font-weight="bold" font-size="4.40" text-anchor="middle" fill="#333" transform="rotate(-90 322.7 470.2)">1/v (10<tspan font-size="3" dy="-1.5">8</tspan><tspan dy="1.5"> M</tspan><tspan font-size="3" dy="-1.5">−1</tspan><tspan dy="1.5"> s)</tspan></text>
</svg>
</body></html>
